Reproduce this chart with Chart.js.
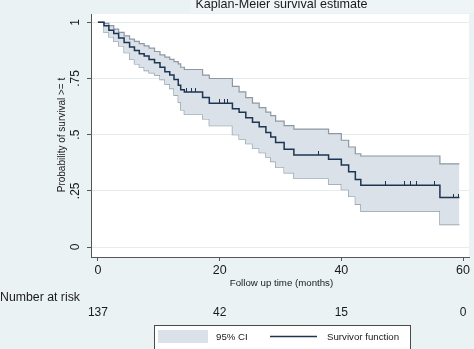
<!DOCTYPE html>
<html>
<head>
<meta charset="utf-8">
<script src="https://cdn.jsdelivr.net/npm/chart.js@4.4.1/dist/chart.umd.min.js"></script>
<style>
  html, body { margin: 0; padding: 0; background: #eaf2f3; }
  canvas { display: block; }
</style>
</head>
<body>
<canvas id="km" width="474" height="349"></canvas>
<script>
// Kaplan-Meier step data (months)
const stepTimes = [0, 1.0, 1.8, 2.6, 3.4, 4.3, 5.2, 6.0, 6.8, 7.6, 8.4, 9.3, 10.2, 11.0, 11.8, 12.5, 13.2, 13.6, 14.2, 17.2, 18.3, 22.1, 23.2, 24.3, 25.4, 26.5, 27.6, 28.4, 29.2, 30.6, 32.2, 37.9, 40.0, 41.2, 42.3, 43.2, 56.2, 59.4];
const survival  = [1.000, 0.985, 0.965, 0.950, 0.930, 0.910, 0.890, 0.875, 0.860, 0.850, 0.835, 0.820, 0.800, 0.780, 0.765, 0.745, 0.720, 0.700, 0.690, 0.665, 0.640, 0.615, 0.600, 0.575, 0.555, 0.535, 0.510, 0.490, 0.465, 0.435, 0.410, 0.390, 0.365, 0.335, 0.300, 0.275, 0.220, 0.220];
const ciUpper   = [1.000, 0.995, 0.985, 0.970, 0.955, 0.940, 0.925, 0.915, 0.905, 0.895, 0.885, 0.870, 0.855, 0.845, 0.835, 0.825, 0.815, 0.800, 0.790, 0.765, 0.750, 0.715, 0.690, 0.665, 0.640, 0.620, 0.600, 0.585, 0.560, 0.540, 0.525, 0.505, 0.475, 0.445, 0.415, 0.405, 0.370, 0.370];
const ciLower   = [1.000, 0.955, 0.935, 0.915, 0.895, 0.865, 0.835, 0.815, 0.800, 0.785, 0.775, 0.765, 0.745, 0.725, 0.705, 0.675, 0.645, 0.610, 0.590, 0.570, 0.540, 0.500, 0.480, 0.460, 0.440, 0.420, 0.400, 0.380, 0.355, 0.330, 0.305, 0.280, 0.255, 0.225, 0.190, 0.160, 0.100, 0.100];

// censored observations (tick marks on the curve)
const censorTimes  = [14.5, 15.3, 16.1, 19.9, 20.8, 21.3, 36.3, 47.2, 50.4, 51.3, 52.3, 55.3, 58.4, 59.2];
const censorValues = [0.690, 0.690, 0.690, 0.640, 0.640, 0.640, 0.410, 0.275, 0.275, 0.275, 0.275, 0.275, 0.220, 0.220];

const xTicks = [0, 20, 40, 60];
const yTicks = [0, 0.25, 0.5, 0.75, 1];
const yTickLabels = ["0", ".25", ".5", ".75", "1"];

const riskTimes  = [0, 20, 40, 60];
const riskCounts = [137, 42, 15, 0];

const FONT = "'Liberation Sans', Arial, sans-serif";
const TEXT = "#1a1a1a";
const LINE = "#1d3452";
const CI_EDGE = "#8d98a2";
const CI_FILL = "#dae1e8";

const toXY = (xs, ys) => xs.map((x, i) => ({ x, y: ys[i] }));

// small vertical tick drawn above the point
const censorMark = document.createElement("canvas");
censorMark.width = 1;
censorMark.height = 8;
(() => {
    const c = censorMark.getContext("2d");
    c.fillStyle = LINE;
    c.fillRect(0, 0, 1, 4);
})();

const decorations = {
    id: "decorations",
    beforeDraw(chart) {
        const { ctx, chartArea: a } = chart;
        ctx.save();
        ctx.fillStyle = "#eaf2f3";
        ctx.fillRect(0, 0, chart.width, chart.height);
        ctx.fillStyle = "#eff5f6";
        ctx.fillRect(190, 0, chart.width - 190, 13);
        ctx.fillStyle = "#ffffff";
        ctx.fillRect(a.left, a.top, a.right - a.left, a.bottom - a.top);
        ctx.restore();
    },
    afterDraw(chart) {
        const { ctx } = chart;
        const xs = chart.scales.x;
        const ys = chart.scales.y;
        ctx.save();
        ctx.fillStyle = TEXT;
        ctx.textAlign = "center";
        ctx.textBaseline = "middle";

        // title
        ctx.font = "12.6px " + FONT;
        ctx.fillText("Kaplan-Meier survival estimate", 281.5, 5);

        // y tick labels, rotated
        ctx.font = "12px " + FONT;
        yTicks.forEach((v, i) => {
            ctx.save();
            ctx.translate(76, ys.getPixelForValue(v));
            ctx.rotate(-Math.PI / 2);
            ctx.fillText(yTickLabels[i], 0, 0);
            ctx.restore();
        });

        // y title
        ctx.save();
        ctx.font = "10px " + FONT;
        ctx.translate(62, 135);
        ctx.rotate(-Math.PI / 2);
        ctx.fillText("Probability of survival >= t", 0, 0);
        ctx.restore();

        // x tick labels
        ctx.font = "12.5px " + FONT;
        xTicks.forEach((v) => ctx.fillText(String(v), xs.getPixelForValue(v), 271));

        // x title
        ctx.font = "9.7px " + FONT;
        ctx.fillText("Follow up time (months)", 281.5, 283);

        // number at risk
        ctx.font = "12.3px " + FONT;
        ctx.textAlign = "left";
        ctx.fillText("Number at risk", 0, 298);
        ctx.textAlign = "center";
        ctx.font = "12px " + FONT;
        riskTimes.forEach((t, i) => ctx.fillText(String(riskCounts[i]), xs.getPixelForValue(t), 313));

        // legend
        ctx.fillStyle = "#ffffff";
        ctx.fillRect(154, 325, 256, 30);
        ctx.strokeStyle = "#4a4a4a";
        ctx.lineWidth = 1;
        ctx.strokeRect(154.5, 325.5, 256, 30);
        ctx.fillStyle = CI_FILL;
        ctx.fillRect(158, 330, 50, 13);
        ctx.strokeStyle = LINE;
        ctx.lineWidth = 1.5;
        ctx.beginPath();
        ctx.moveTo(270, 336.5);
        ctx.lineTo(317, 336.5);
        ctx.stroke();
        ctx.fillStyle = TEXT;
        ctx.font = "9.7px " + FONT;
        ctx.textAlign = "left";
        ctx.fillText("95% CI", 216, 337);
        ctx.fillText("Survivor function", 327, 337);

        ctx.restore();
    },
};

new Chart(document.getElementById("km"), {
    type: "line",
    data: {
        datasets: [
            {
                label: "Survivor function",
                data: toXY(stepTimes, survival),
                borderColor: LINE,
                borderWidth: 1.5,
                stepped: true,
                pointRadius: 0,
                fill: false,
            },
            {
                label: "Censored",
                data: toXY(censorTimes, censorValues),
                showLine: false,
                pointStyle: censorMark,
                pointRadius: 3,
            },
            {
                label: "95% CI upper",
                data: toXY(stepTimes, ciUpper),
                borderColor: CI_EDGE,
                borderWidth: 1.2,
                backgroundColor: CI_FILL,
                stepped: true,
                pointRadius: 0,
                fill: "+1",
            },
            {
                label: "95% CI lower",
                data: toXY(stepTimes, ciLower),
                borderColor: CI_EDGE,
                borderWidth: 1.2,
                stepped: true,
                pointRadius: 0,
                fill: false,
            },
        ],
    },
    options: {
        responsive: false,
        animation: false,
        devicePixelRatio: 1,
        layout: { padding: { left: 0, top: 14, right: 2, bottom: 82 } },
        plugins: {
            legend: { display: false },
            tooltip: { enabled: false },
            title: { display: false },
        },
        scales: {
            x: {
                type: "linear",
                min: -1.14,
                max: 60.98,
                afterBuildTicks: (s) => { s.ticks = xTicks.map((v) => ({ value: v })); },
                afterFit: (s) => { s.height = 10; },
                ticks: { display: false },
                grid: { drawOnChartArea: false, drawTicks: true, tickLength: 4, tickColor: "#555555" },
                border: { color: "#555555", width: 1 },
            },
            y: {
                type: "linear",
                min: -0.0445,
                max: 1.037,
                afterBuildTicks: (s) => { s.ticks = yTicks.map((v) => ({ value: v })); },
                afterFit: (s) => { s.width = 91; },
                ticks: { display: false },
                grid: { color: "#e4ecee", lineWidth: 1, drawTicks: true, tickLength: 4, tickColor: "#555555" },
                border: { color: "#555555", width: 1 },
            },
        },
    },
    plugins: [decorations],
});
</script>
</body>
</html>
